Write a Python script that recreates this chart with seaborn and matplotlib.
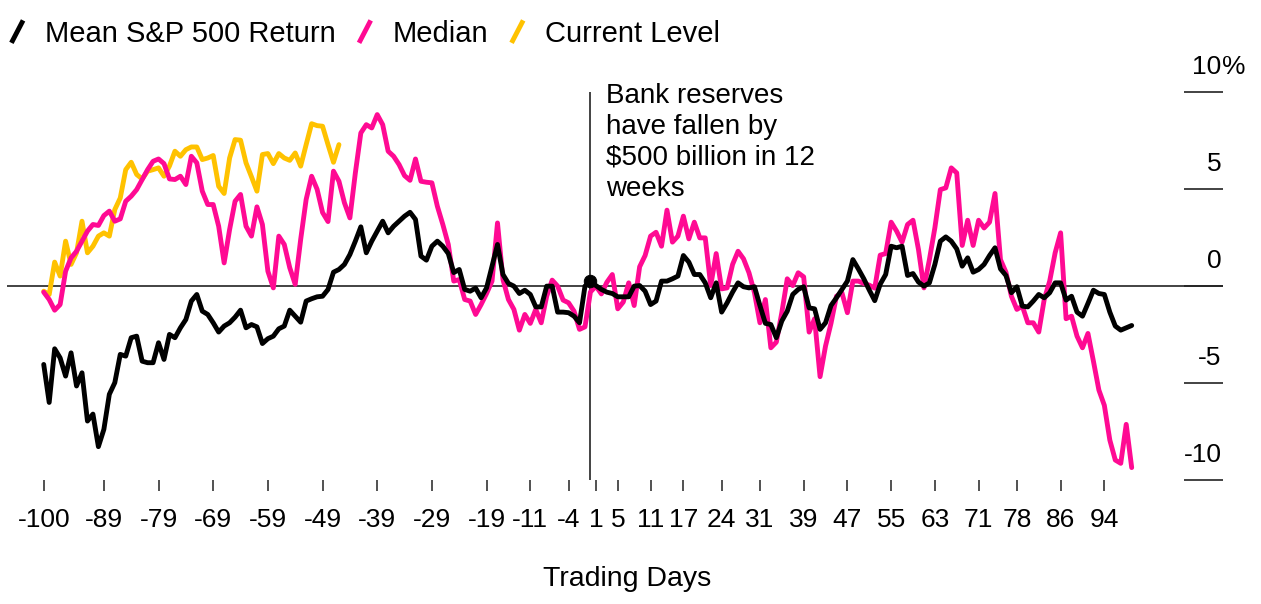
import numpy as np
import pandas as pd
import matplotlib
matplotlib.use("Agg")
import matplotlib.pyplot as plt
import seaborn as sns
from matplotlib.lines import Line2D
from matplotlib.legend_handler import HandlerBase

# S&P 500 return (%) around the start of bank-reserve drawdowns, by trading day
mean_return = [
    -4.04, -6.0, -3.23, -3.7, -4.64, -3.44, -5.15, -4.47, -6.96, -6.6,
    -8.28, -7.39, -5.58, -4.98, -3.52, -3.61, -2.66, -2.58, -3.87, -3.95,
    -3.95, -2.92, -3.78, -2.49, -2.66, -2.15, -1.72, -0.77, -0.43, -1.29,
    -1.46, -1.89, -2.37, -2.06, -1.89, -1.6, -1.24, -2.15, -1.98, -2.1,
    -2.96, -2.71, -2.58, -2.2, -2.06, -1.24, -1.55, -1.86, -0.77, -0.65,
    -0.55, -0.52, -0.17, 0.72, 0.86, 1.12, 1.63, 2.32, 3.06, 1.72,
    2.32, 2.84, 3.35, 2.75, 3.09, 3.35, 3.61, 3.81, 3.44, 1.55,
    1.34, 2.06, 2.32, 2.06, 1.68, 0.7, 0.86, -0.17, -0.26, -0.1,
    -0.6, -0.09, 1.03, 2.15, 0.6, 0.14, 0.0, -0.38, -0.21, -0.43,
    -1.07, -1.07, 0.0, 0.0, -1.34, -1.34, -1.37, -1.55, -1.89, 0.0,
    0.25, 0.03, -0.17, -0.31, -0.38, -0.55, -0.55, -0.55, 0.0, 0.03,
    -0.26, -0.95, -0.77, 0.26, 0.26, 0.38, 0.52, 1.58, 1.24, 0.6,
    0.6, 0.17, -0.6, 0.17, -1.34, -0.86, -0.31, 0.17, -0.03, -0.09,
    -0.03, -1.0, -1.92, -1.98, -2.66, -1.8, -1.29, -0.43, -0.17, -0.03,
    -1.12, -1.17, -2.23, -1.89, -1.0, -0.6, -0.17, 0.26, 1.37, 0.89,
    0.38, -0.2, -0.75, 0.1, 0.6, 2.06, 1.98, 2.06, 0.55, 0.65,
    0.21, 0.0, 0.17, 1.12, 2.32, 2.54, 2.32, 1.92, 1.03, 1.46,
    0.72, 0.86, 1.12, 1.58, 1.98, 0.89, 0.55, -0.34, -0.03, -1.03,
    -1.07, -0.77, -0.43, -0.6, -0.34, 0.17, 0.17, -0.72, -0.52, -1.34,
    -1.55, -0.89, -0.21, -0.38, -0.43, -1.34, -2.06, -2.27, -2.15, -2.03,
]
median_return = [
    -0.31, -0.69, -1.24, -0.95, 0.77, 1.46, 1.8, 2.32, 2.84, 3.18,
    3.13, 3.64, 3.87, 3.35, 3.47, 4.38, 4.64, 4.98, 5.5, 6.01,
    6.44, 6.56, 6.32, 5.53, 5.5, 5.67, 5.24, 6.7, 6.36, 4.9,
    4.21, 4.21, 3.09, 1.2, 2.92, 4.38, 4.73, 3.09, 2.58, 4.09,
    3.18, 0.77, -0.09, 2.58, 2.15, 0.95, 0.09, 2.41, 4.47, 5.67,
    5.0, 3.8, 3.33, 5.93, 5.41, 4.3, 3.52, 5.84, 7.9, 8.33,
    8.16, 8.85, 8.33, 6.96, 6.7, 6.27, 5.7, 5.46, 6.56, 5.41,
    5.36, 5.33, 4.12, 3.18, 2.15, 0.26, 0.34, -0.69, -0.77, -1.46,
    -0.95, -0.38, 0.26, 3.26, 0.34, -0.69, -1.2, -2.27, -1.46, -1.92,
    -1.2, -1.89, -0.52, 0.31, 0.0, -0.72, -0.86, -1.29, -2.23, -2.1,
    -0.3, 0.0, -0.4, 0.2, 0.6, -1.17, -0.82, 0.17, -1.0, 1.0,
    1.58, 2.58, 2.78, 2.06, 3.92, 2.27, 2.58, 3.61, 2.44, 3.3,
    2.49, 2.49, 0.03, 1.68, -0.14, -0.09, 1.12, 1.8, 1.41, 0.69,
    -0.34, -1.89, -0.69, -3.18, -2.89, -1.37, 0.38, 0.03, 0.69, 0.48,
    -2.37, -1.68, -4.67, -3.09, -1.92, -0.52, -0.34, -1.37, 0.26, 0.26,
    0.14, 0.05, -0.1, 1.6, 1.68, 3.3, 2.84, 2.27, 3.18, 3.4,
    1.89, -0.09, 1.37, 3.01, 4.98, 5.07, 6.1, 5.84, 2.1, 3.4,
    2.1, 3.4, 3.0, 3.3, 4.78, 1.37, 0.72, -0.52, -1.2, -1.03,
    -1.89, -1.89, -2.37, -0.69, 0.26, 1.72, 2.75, -1.68, -1.55, -2.58,
    -3.18, -2.44, -3.87, -5.36, -6.15, -7.94, -8.97, -9.14, -7.13, -9.36,
]
current_level = [
    -0.26, -0.43, 1.24, 0.52, 2.32, 1.12, 1.72, 3.35, 1.72, 2.06,
    2.58, 2.75, 2.58, 3.95, 4.55, 6.01, 6.39, 5.76, 5.53, 5.93,
    6.01, 6.1, 5.67, 6.2, 6.96, 6.7, 7.04, 7.18, 7.18, 6.53,
    6.61, 6.74, 5.15, 4.78, 6.61, 7.56, 7.53, 6.36, 5.64, 4.9,
    6.79, 6.84, 6.32, 6.84, 6.61, 6.49, 6.87, 6.19, 7.3, 8.38,
    8.28, 8.25, 7.3, 6.39, 7.3,
]
days = list(range(-100, 100))
days_current = days[:len(current_level)]

xtick_days = [-100, -89, -79, -69, -59, -49, -39, -29, -19, -11, -4, 1, 5,
              11, 17, 24, 31, 39, 47, 55, 63, 71, 78, 86, 94]
ytick_vals = [-10, -5, 0, 5, 10]
ytick_text = ["-10", "-5", "0", "5", "10"]

BLACK = "#000000"
PINK = "#ff0a93"
YELLOW = "#ffc200"


class SlashHandler(HandlerBase):
    # legend key drawn as a short slanted stroke
    def create_artists(self, legend, orig_handle, xdescent, ydescent,
                       width, height, fontsize, trans):
        x0, y0 = -xdescent, -ydescent
        ln = Line2D([x0 + 0.1 * width, x0 + 0.9 * width],
                    [y0 - 0.05 * height, y0 + 1.05 * height],
                    color=orig_handle.get_color(), lw=orig_handle.get_linewidth(),
                    solid_capstyle="butt", transform=trans)
        return [ln]


sns.set_theme(style="white")
plt.rcParams["font.family"] = ["Liberation Sans", "DejaVu Sans"]
plt.rcParams["text.color"] = "black"
plt.rcParams["axes.labelcolor"] = "black"

fig = plt.figure(figsize=(12.61, 6.04), dpi=100)
ax = fig.add_axes([0.0058, 0.2053, 0.9641, 0.6419])

ax.axhline(0, color="#222222", lw=1.2, zorder=1)
ax.vlines(0, -10, 10, color="#222222", lw=1.2, zorder=1)

LW = 3.5
sns.lineplot(x=days, y=mean_return, color=BLACK, lw=LW, label="Mean S&P 500 Return", ax=ax, zorder=4)
sns.lineplot(x=days, y=median_return, color=PINK, lw=LW, label="Median", ax=ax, zorder=3)
sns.lineplot(x=days_current, y=current_level, color=YELLOW, lw=LW, label="Current Level", ax=ax, zorder=2)
# marker at day 0
day0 = days.index(0)
sns.scatterplot(x=[0], y=[mean_return[day0]], color=BLACK, s=80, edgecolor=BLACK, ax=ax, zorder=5)

handles, labels = ax.get_legend_handles_labels()
if ax.get_legend() is not None:
    ax.get_legend().remove()
fig.legend(handles[:3], labels[:3], loc="center left", bbox_to_anchor=(0.0079, 0.944),
           ncol=3, frameon=False, fontsize=21, handlelength=0.5, handleheight=0.7,
           handletextpad=0.7, columnspacing=0.75, borderpad=0, borderaxespad=0,
           handler_map={Line2D: SlashHandler()})

ax.set_xlim(-106.66, 115.71)
ax.set_ylim(-10, 10)
sns.despine(ax=ax, left=True, bottom=True, right=True, top=True)

ax.set_xticks(xtick_days)
ax.set_xticklabels([str(d) for d in xtick_days])
ax.tick_params(axis="x", bottom=True, direction="out", length=8, width=1.1,
               color="#222222", pad=12, labelsize=19, labelcolor="black")

ax.yaxis.tick_right()
ax.set_yticks(ytick_vals)
ax.tick_params(axis="y", right=True, left=False, direction="in", length=28, width=1.2,
               color="#222222", labelright=False, labelleft=False)
for v, t in zip(ytick_vals, ytick_text):
    ax.annotate(t, xy=(1, v), xycoords=("axes fraction", "data"), xytext=(-1, 13),
                textcoords="offset points", ha="right", va="baseline", fontsize=19,
                annotation_clip=False)
ax.annotate("%", xy=(1, 10), xycoords=("axes fraction", "data"), xytext=(-1, 13),
            textcoords="offset points", ha="left", va="baseline", fontsize=19,
            annotation_clip=False)

ax.text(2.85, 10.5, "Bank reserves\nhave fallen by\n$500 billion in 12\nweeks",
        ha="left", va="top", fontsize=20, linespacing=1.25, clip_on=False)

ax.set_xlabel("Trading Days", fontsize=20.5, color="black")
ax.xaxis.set_label_coords(0.5102, -0.222)
ax.set_ylabel("")
ax.grid(False)

fig.savefig("out.png", dpi=100)
